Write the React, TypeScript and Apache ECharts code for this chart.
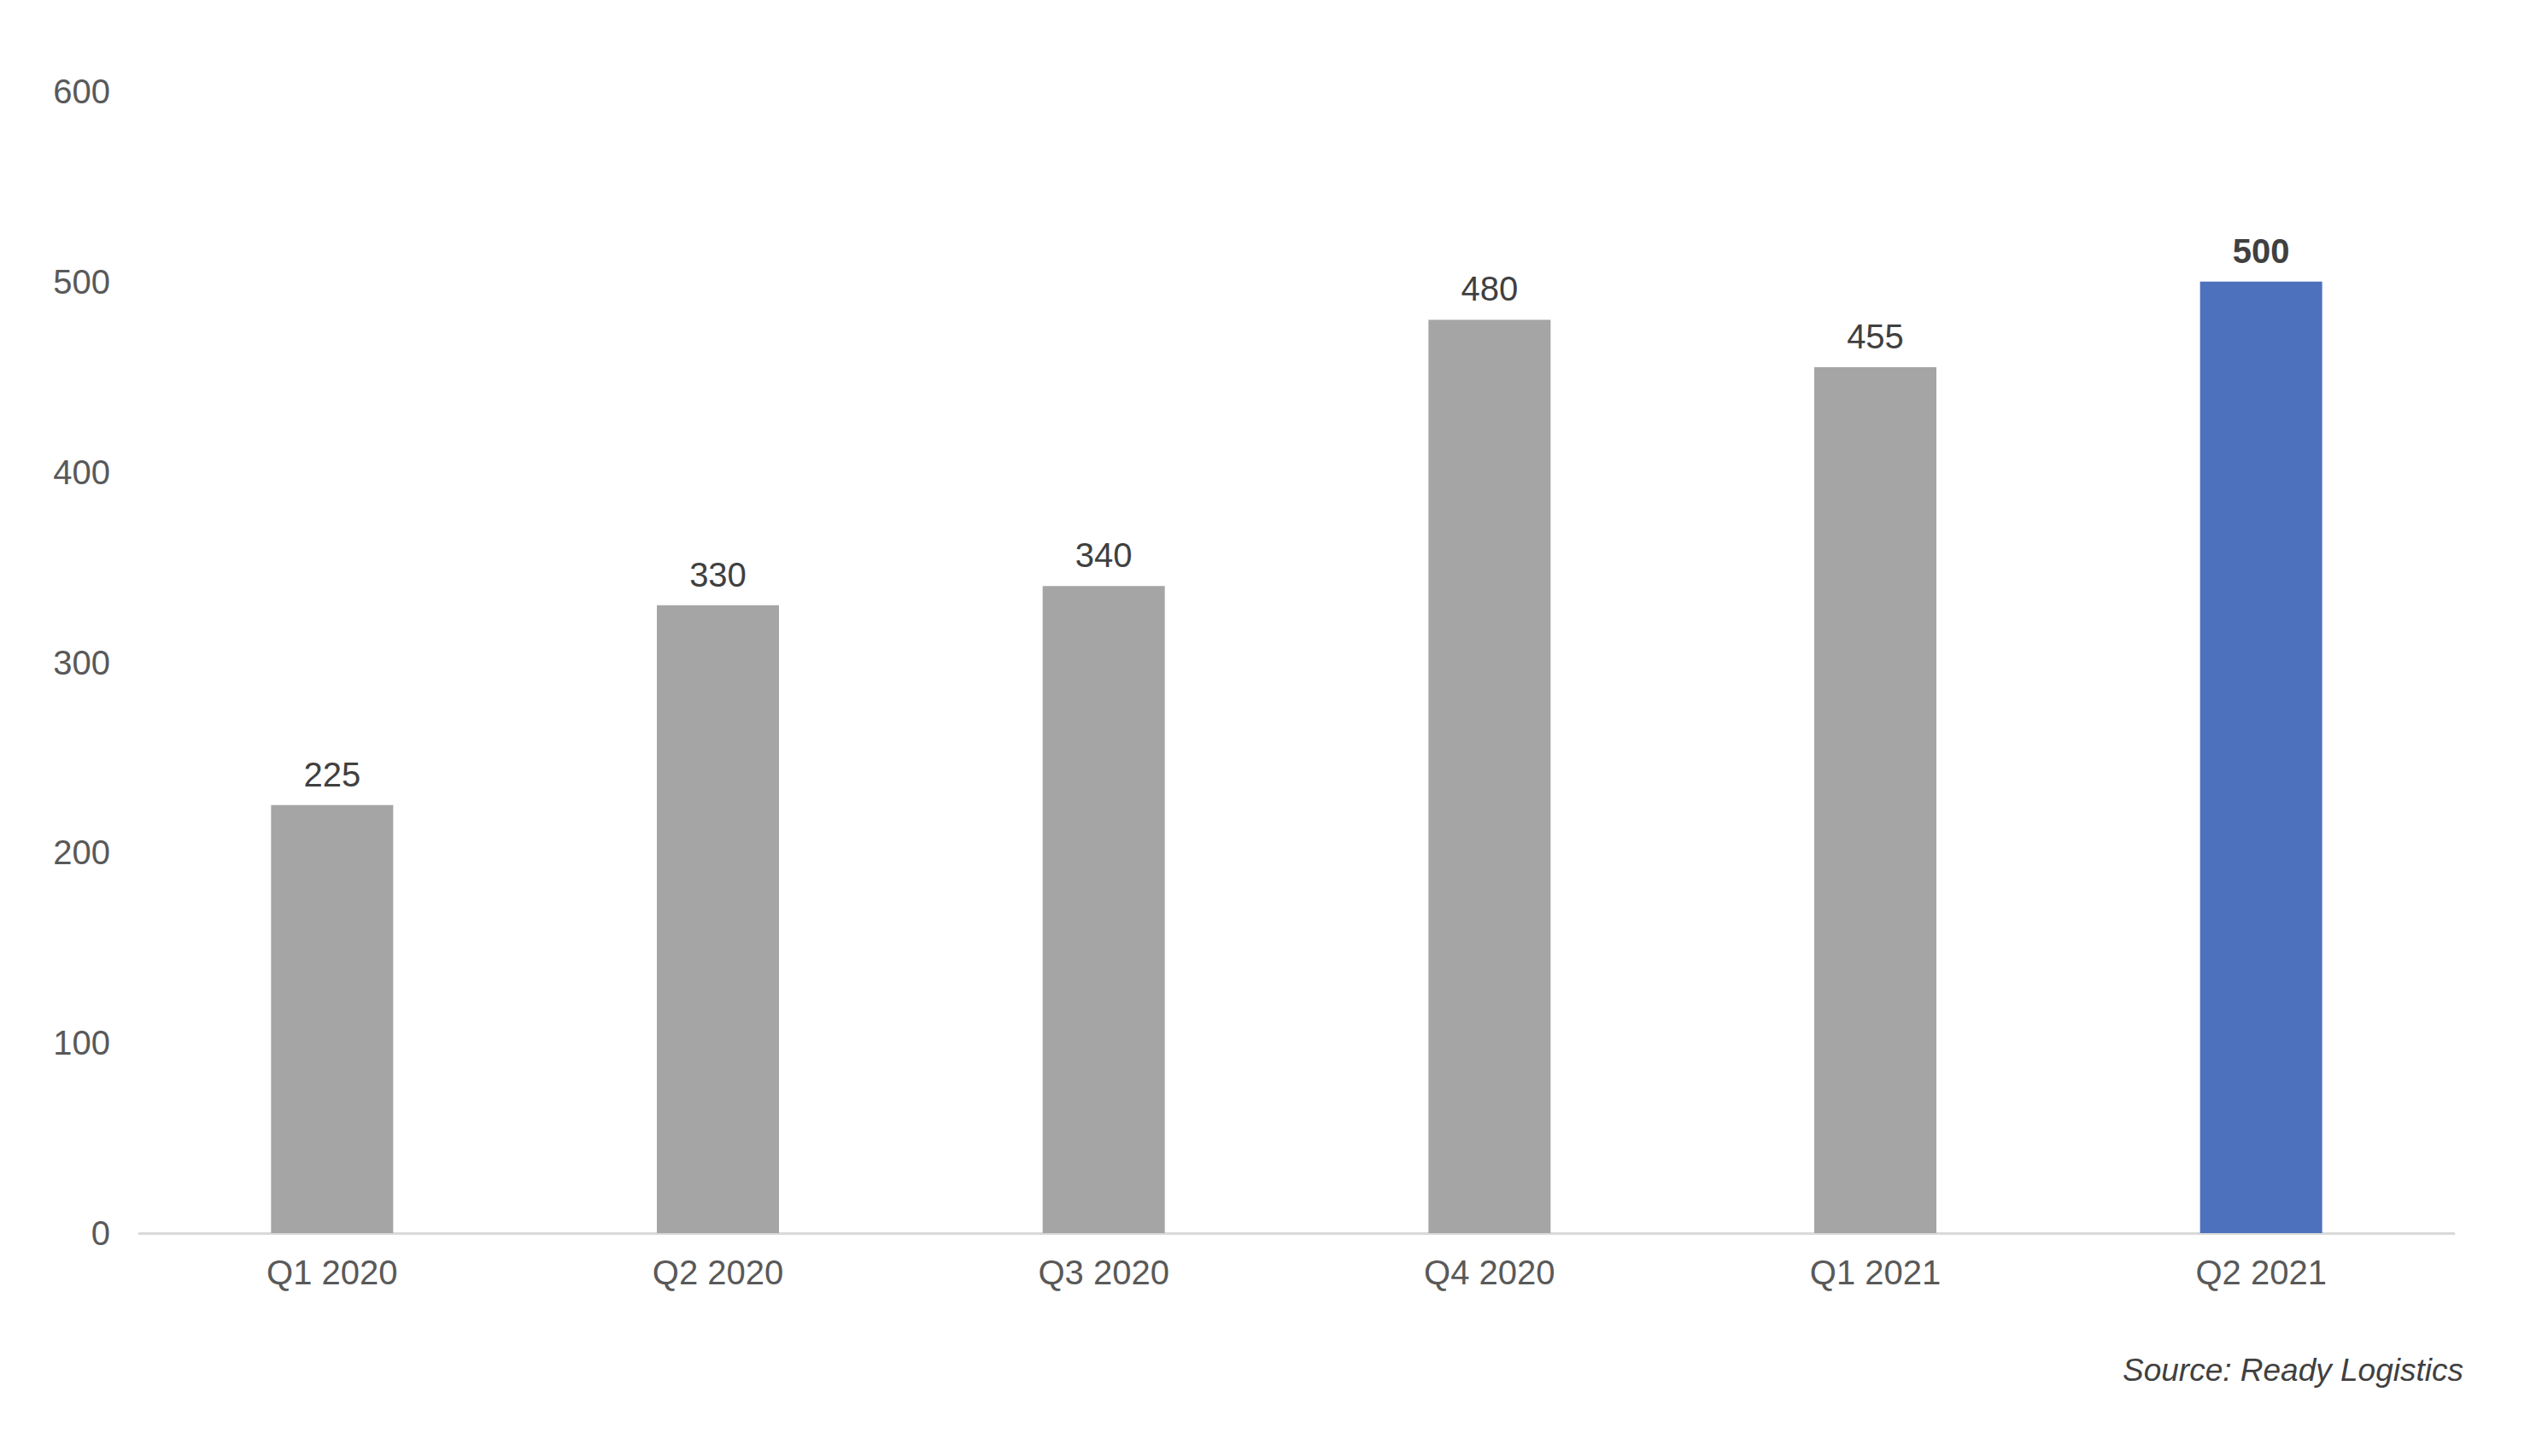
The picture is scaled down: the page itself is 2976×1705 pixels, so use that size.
import React, { useEffect, useRef } from "react";
import * as echarts from "echarts";

const categories = ["Q1 2020", "Q2 2020", "Q3 2020", "Q4 2020", "Q1 2021", "Q2 2021"];
const values = [225, 330, 340, 480, 455, 500];
const highlightIndex = 5;
const yTicks = { min: 0, max: 600, interval: 100 };
const sourceText = "Source: Ready Logistics";

const FONT = "'Liberation Sans', Arial, sans-serif";

export default function App() {
  const ref = useRef<HTMLDivElement>(null);
  useEffect(() => {
    if (!ref.current) return;
    const chart = echarts.init(ref.current, undefined, { renderer: "svg" });
    chart.setOption({
      animation: false,
      backgroundColor: "#ffffff",
      grid: { left: 163, right: 103, top: 107, bottom: 261, containLabel: false },
      xAxis: {
        type: "category",
        data: categories,
        axisLine: { show: true, lineStyle: { color: "#d9d9d9", width: 3 } },
        axisTick: { show: false },
        axisLabel: { color: "#595959", fontSize: 40, fontFamily: FONT, margin: 26 },
      },
      yAxis: {
        type: "value",
        min: yTicks.min,
        max: yTicks.max,
        interval: yTicks.interval,
        splitLine: { show: false },
        axisLine: { show: false },
        axisTick: { show: false },
        axisLabel: { color: "#595959", fontSize: 40, fontFamily: FONT, margin: 34 },
      },
      series: [
        {
          type: "bar",
          barWidth: 143,
          data: values.map((v, i) => ({
            value: v,
            itemStyle: { color: i === highlightIndex ? "#4e71be" : "#a5a5a5" },
            label: i === highlightIndex ? { fontWeight: "bold" } : undefined,
          })),
          label: {
            show: true,
            position: "top",
            distance: 16,
            color: "#404040",
            fontSize: 40,
            fontFamily: FONT,
          },
        },
      ],
      graphic: [
        {
          type: "text",
          right: 92,
          top: 1586,
          style: {
            text: sourceText,
            fontSize: 37,
            fontStyle: "italic",
            fontFamily: FONT,
            fill: "#404040",
          },
        },
      ],
    });
    return () => chart.dispose();
  }, []);
  return (
    <div
      ref={ref}
      style={{ position: "absolute", left: 0, top: 0, width: 2976, height: 1705 }}
    />
  );
}
